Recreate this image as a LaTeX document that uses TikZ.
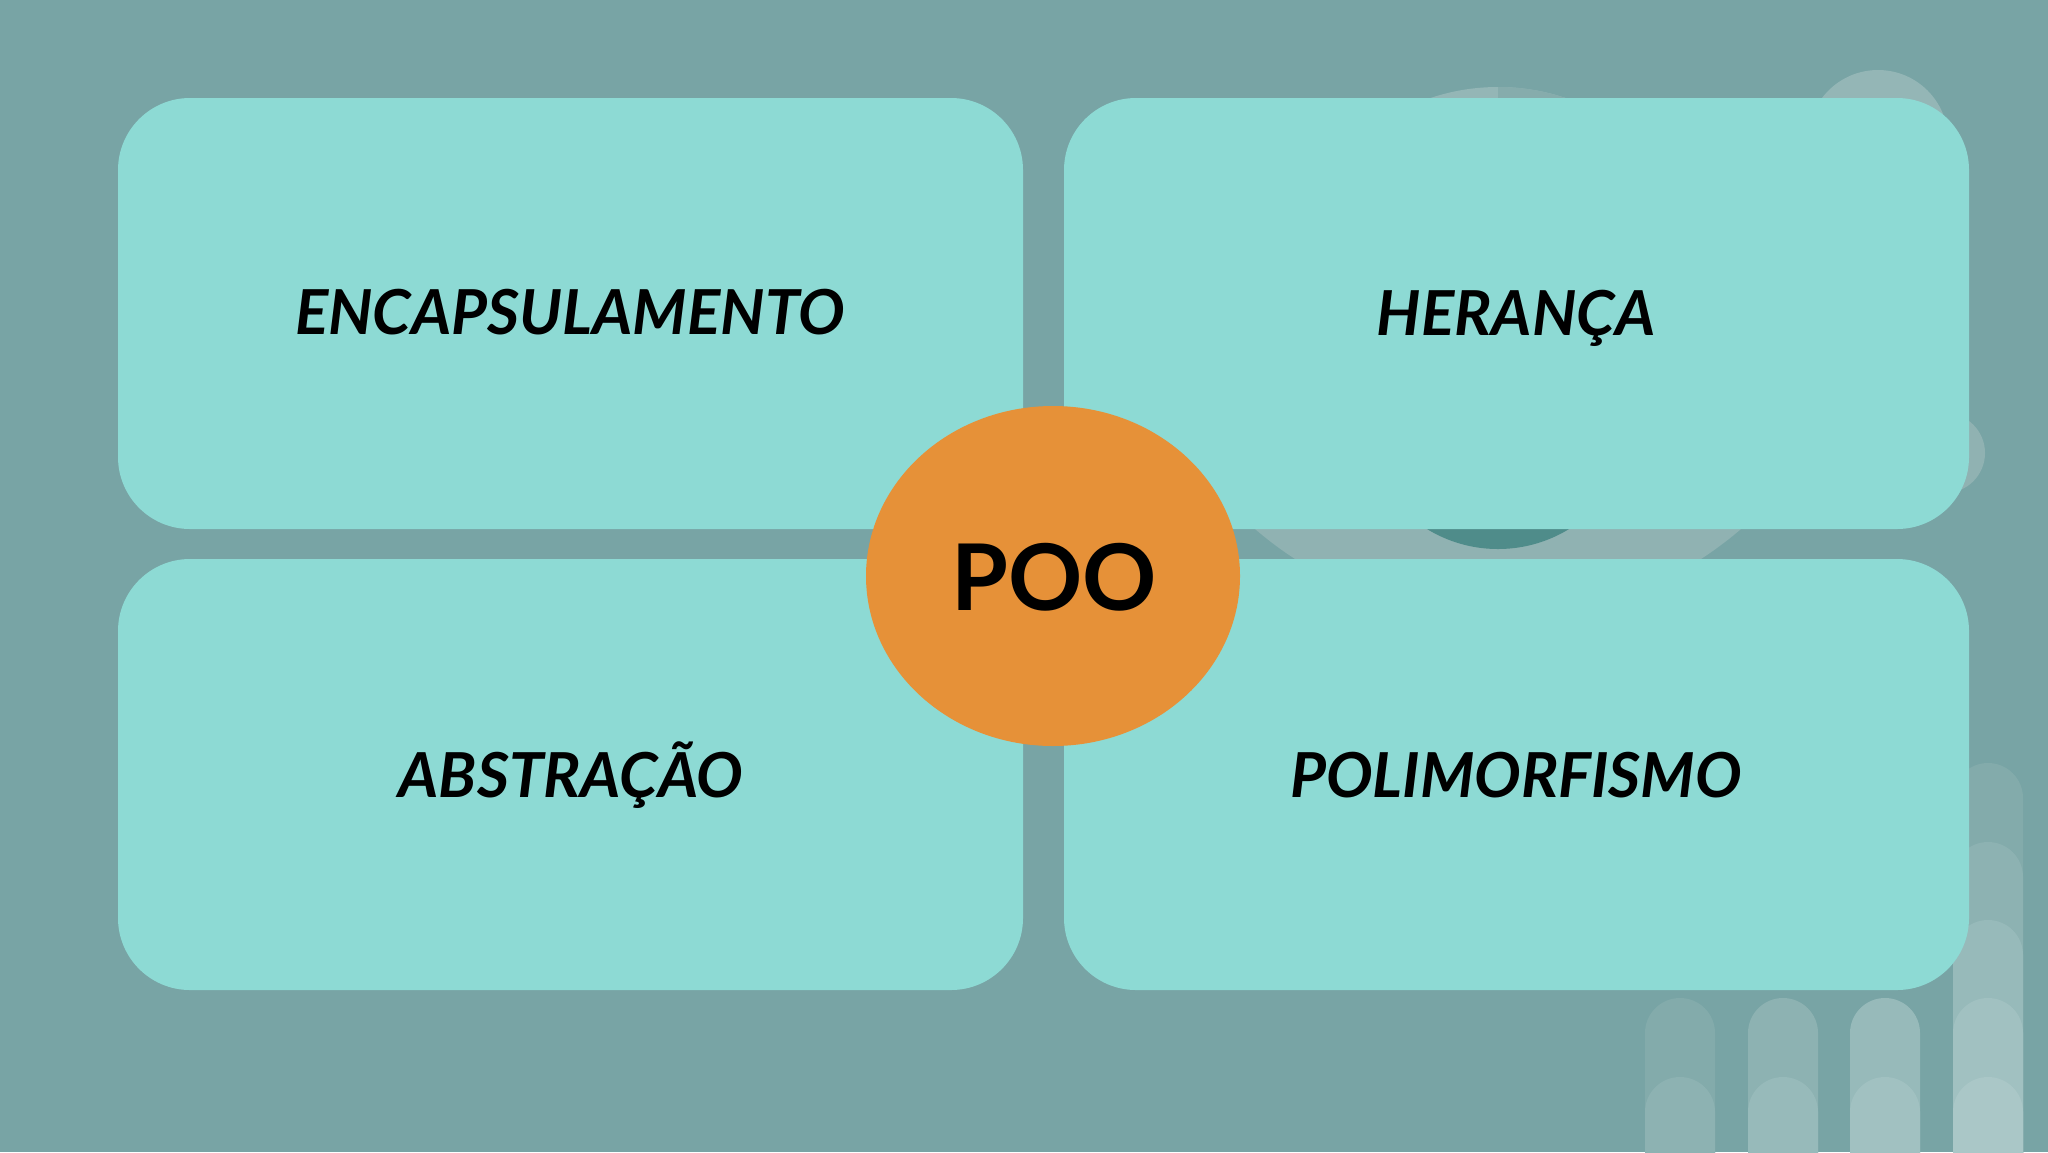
\documentclass[tikz,border=0pt]{standalone}
\usepackage{fontspec}
\setmainfont{Lato}
\definecolor{bgc}{HTML}{78A4A5}
\definecolor{boxc}{HTML}{8DDAD4}
\definecolor{orangec}{HTML}{E69138}
\definecolor{lightA}{HTML}{94B6B6}
\definecolor{lightB}{HTML}{86ACAC}
\definecolor{ringc}{HTML}{90B2B2}
\definecolor{darkc}{HTML}{4F8C8A}
\definecolor{barA}{HTML}{83ABAB}
\definecolor{barB}{HTML}{8DB2B2}
\definecolor{barC}{HTML}{97BABA}
\definecolor{barD}{HTML}{A1C1C1}
\definecolor{barE}{HTML}{AAC7C7}
\tikzset{
  card/.style={fill=boxc, draw=none, rounded corners=72*0.5pt},
  cardtext/.style={anchor=base, font=\fontsize{31}{37}\selectfont\bfseries\itshape, text=black, inner sep=0pt},
  centertext/.style={anchor=base, font=\fontsize{46}{55}\selectfont\bfseries, text=black, inner sep=0pt},
  barseg/.style={draw=none, rounded corners=35*0.5pt}
}
\begin{document}
\begin{tikzpicture}[x=0.5pt,y=-0.5pt]
\useasboundingbox (0,0) rectangle (2048,1152);
\fill[bgc] (0,0) rectangle (2048,1152);
% background decorations
\begin{scope}
\clip (1000,450) rectangle (2048,700);
\fill[ringc] (1498,246) circle[radius=373];
\fill[darkc] (1498,413) circle[radius=136];
\end{scope}
\fill[lightA] (1498,299) circle[radius=212];
\fill[lightB] (1498,87) arc[start angle=-90,end angle=90,radius=212] -- cycle;
\fill[lightA] (1878,140) circle[radius=70];
\fill[ringc] (1945,453) circle[radius=40];
% bars
\foreach \bx/\top/\col in {1645/998/barA,1645/1077/barB,
                           1748/998/barB,1748/1077/barC,
                           1850/998/barC,1850/1077/barD,
                           1953/763/barA,1953/842/barB,1953/920/barC,1953/998/barD,1953/1077/barE}{
  \fill[\col, barseg] (\bx,\top) rectangle (\bx+70,1200);
}
% cards
\path[card] (118,98) rectangle (1023,529);
\path[card] (1064,98) rectangle (1969,529);
\path[card] (118,559) rectangle (1023,990);
\path[card] (1064,559) rectangle (1969,990);
\node[cardtext] (encap) at (570,334) {ENCAPSULAMENTO};
\node[cardtext] (heranca) at (1516,335) {HERANÇA};
\node[cardtext] (abstr) at (571,797) {ABSTRAÇÃO};
\node[cardtext] (polim) at (1516,797) {POLIMORFISMO};
% center ellipse
\fill[orangec] (1053,576) ellipse[x radius=187, y radius=170];
\node[centertext] (poo) at (1054,610) {POO};
\end{tikzpicture}
\end{document}
